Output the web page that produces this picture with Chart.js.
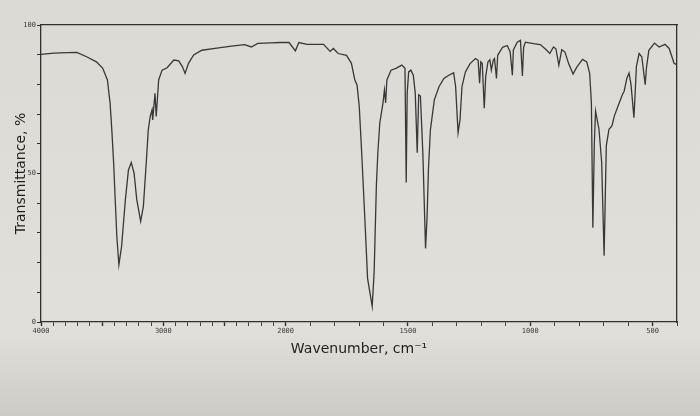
<!DOCTYPE html>
<html>
<head>
<meta charset="utf-8">
<script src="https://cdn.jsdelivr.net/npm/chart.js@4.4.0/dist/chart.umd.min.js"></script>
<style>
  html, body { margin: 0; padding: 0; background: #dcdad4; }
</style>
</head>
<body>
<canvas id="ir" width="700" height="416"></canvas>
<script>
// IR spectrum (cm-1 vs %T)
const wavenumbers = [
  4000, 3895, 3788, 3707, 3627, 3547, 3495, 3457, 3435, 3421, 3406, 3392, 3380, 3363, 3341,
  3310, 3285, 3262, 3239, 3217, 3185, 3163, 3138, 3123, 3107, 3092, 3087, 3068, 3058, 3038,
  3010, 2969, 2914, 2874, 2843, 2822, 2794, 2752, 2685, 2577, 2443, 2335, 2281, 2227, 2120,
  2040, 1986, 1960, 1946, 1912, 1845, 1818, 1805, 1785, 1751, 1731, 1717, 1708, 1699, 1689,
  1676, 1665, 1646, 1638, 1629, 1623, 1615, 1602, 1596, 1591, 1586, 1569, 1549, 1525, 1512,
  1507, 1503, 1497, 1488, 1478, 1470, 1462, 1456, 1449, 1439, 1428, 1422, 1416, 1408, 1392,
  1373, 1353, 1333, 1313, 1305, 1295, 1287, 1279, 1265, 1246, 1224, 1213, 1207, 1202, 1196,
  1188, 1182, 1173, 1165, 1159, 1151, 1146, 1138, 1133, 1113, 1094, 1082, 1073, 1069, 1053,
  1040, 1032, 1027, 1020, 986, 959, 939, 920, 905, 895, 883, 871, 858, 843, 825,
  809, 786, 769, 757, 750, 744, 738, 733, 719, 708, 698, 693, 689, 678, 666,
  656, 641, 623, 616, 605, 596, 588, 576, 571, 566, 555, 544, 530, 525, 515,
  492, 473, 449, 432, 412, 400
];
const transmittance = [
  90.1, 90.5, 90.7, 90.8, 89.3, 87.6, 85.4, 81.5, 73.6, 64.7, 53.5, 40.0, 28.8, 19.3, 25.5,
  41.2, 51.2, 53.7, 50.1, 41.2, 33.9, 38.9, 54.6, 64.7, 69.2, 71.4, 68.0, 77.0, 69.2, 81.5,
  84.8, 85.6, 88.2, 87.9, 85.9, 83.7, 87.1, 89.9, 91.5, 92.1, 92.9, 93.4, 92.6, 93.8, 94.0,
  94.1, 94.1, 91.3, 94.1, 93.5, 93.5, 91.1, 92.1, 90.4, 89.8, 87.1, 81.5, 79.8, 72.6, 57.0,
  34.7, 14.7, 5.3, 17.0, 45.9, 57.0, 67.0, 73.7, 78.1, 73.8, 81.5, 84.8, 85.4, 86.5, 85.4,
  47.0, 77.0, 84.2, 84.8, 83.1, 77.0, 57.0, 76.5, 76.1, 57.0, 24.8, 34.8, 51.5, 64.8, 74.8,
  79.2, 82.0, 83.1, 83.9, 79.3, 63.7, 68.1, 79.3, 84.2, 87.0, 88.7, 88.1, 80.4, 87.6, 87.0,
  72.0, 82.6, 87.5, 88.3, 84.8, 88.1, 88.7, 82.0, 89.8, 92.5, 93.1, 90.9, 83.1, 91.6, 94.2,
  94.8, 82.8, 92.5, 94.2, 93.7, 93.4, 92.0, 90.4, 92.6, 92.0, 86.5, 91.7, 90.9, 87.0, 83.5,
  85.9, 88.4, 87.6, 83.7, 73.8, 31.7, 60.0, 71.0, 64.9, 53.9, 22.3, 42.8, 59.4, 64.9, 66.0,
  69.4, 72.7, 76.6, 77.7, 82.1, 83.8, 79.9, 68.8, 77.1, 86.0, 90.4, 89.3, 79.9, 85.5, 91.5,
  93.9, 92.6, 93.5, 92.1, 87.1, 86.6
];

const xLabelled = [4000, 3000, 2000, 1500, 1000, 500];
const xMajor = [3500, 2500];
const yLabelled = [0, 50, 100];

// axis changes scale at 2000 cm-1 (2x expanded below)
const WN_MAX = 4000, WN_BREAK = 2000, WN_MIN = 400;
const SPAN = (WN_MAX - WN_BREAK) + 2 * (WN_BREAK - WN_MIN);

class IrScale extends Chart.LinearScale {
  getPixelForValue(value) {
    const e = value >= WN_BREAK
      ? WN_MAX - value
      : (WN_MAX - WN_BREAK) + 2 * (WN_BREAK - value);
    return this.getPixelForDecimal(e / SPAN);
  }
  getValueForPixel(pixel) {
    const e = this.getDecimalForPixel(pixel) * SPAN;
    return e <= WN_MAX - WN_BREAK ? WN_MAX - e : WN_BREAK - (e - (WN_MAX - WN_BREAK)) / 2;
  }
}
IrScale.id = 'ir';
IrScale.defaults = Chart.LinearScale.defaults;
Chart.register(IrScale);

const ink = '#303030';
const tickFont = { family: 'DejaVu Sans Mono', size: 7 };

const paper = {
  id: 'paper',
  beforeDraw(chart) {
    const { ctx, width, height } = chart;
    const g = ctx.createLinearGradient(0, 0, 0, height);
    g.addColorStop(0, '#dcdad4');
    g.addColorStop(0.8, '#e1dfda');
    g.addColorStop(1, '#cdcbc6');
    ctx.save();
    ctx.fillStyle = g;
    ctx.fillRect(0, 0, width, height);
    ctx.restore();
  }
};

new Chart(document.getElementById('ir'), {
  type: 'line',
  data: {
    datasets: [{
      data: wavenumbers.map((w, i) => ({ x: w, y: transmittance[i] })),
      borderColor: '#383838',
      borderWidth: 1.3,
      pointRadius: 0,
      tension: 0,
      fill: false,
    }],
  },
  options: {
    responsive: false,
    animation: false,
    layout: { padding: 0 },
    plugins: { legend: { display: false }, tooltip: { enabled: false } },
    scales: {
      x: {
        type: 'ir',
        position: 'bottom',
        min: WN_MIN,
        max: WN_MAX,
        afterBuildTicks: s => {
          const t = [];
          for (let v = WN_MAX; v >= WN_MIN; v -= 100) t.push({ value: v });
          s.ticks = t;
        },
        afterFit: s => { s.height = 94; },
        grid: {
          drawOnChartArea: false,
          tickLength: 4,
          tickColor: ink,
          tickWidth: c => (xLabelled.includes(c.tick.value) || xMajor.includes(c.tick.value)) ? 1.4 : 0.9,
        },
        border: { display: true, color: ink, width: 1.3 },
        ticks: {
          autoSkip: false,
          maxRotation: 0,
          padding: 1,
          color: '#3c3c3c',
          font: tickFont,
          callback: v => xLabelled.includes(v) ? String(v) : '',
        },
        title: {
          display: true,
          text: 'Wavenumber, cm\u207B\u00B9',
          color: '#1f1f1f',
          font: { family: 'DejaVu Sans', size: 14 },
          padding: { top: 0, bottom: 58 },
        },
      },
      xTop: {
        type: 'linear',
        position: 'top',
        min: 0,
        max: 1,
        afterFit: s => { s.height = 25; },
        grid: { display: false, drawTicks: false },
        border: { display: true, color: ink, width: 1.3 },
        ticks: { display: false },
      },
      y: {
        min: 0,
        max: 100,
        afterBuildTicks: s => {
          const t = [];
          for (let v = 0; v <= 100; v += 10) t.push({ value: v });
          s.ticks = t;
        },
        afterFit: s => { s.width = 41; },
        grid: { drawOnChartArea: false, tickLength: 4, tickColor: ink, tickWidth: 1 },
        border: { display: true, color: ink, width: 1.3 },
        ticks: {
          padding: 1,
          color: '#3c3c3c',
          font: tickFont,
          callback: v => yLabelled.includes(v) ? String(v) : '',
        },
        title: {
          display: true,
          text: 'Transmittance, %',
          color: '#1f1f1f',
          font: { family: 'DejaVu Sans', size: 14 },
          padding: { top: 13, bottom: 0 },
        },
      },
      yRight: {
        position: 'right',
        min: 0,
        max: 100,
        afterFit: s => { s.width = 23; },
        grid: { display: false, drawTicks: false },
        border: { display: true, color: ink, width: 1.3 },
        ticks: { display: false },
      },
    },
  },
  plugins: [paper],
});
</script>
</body>
</html>
